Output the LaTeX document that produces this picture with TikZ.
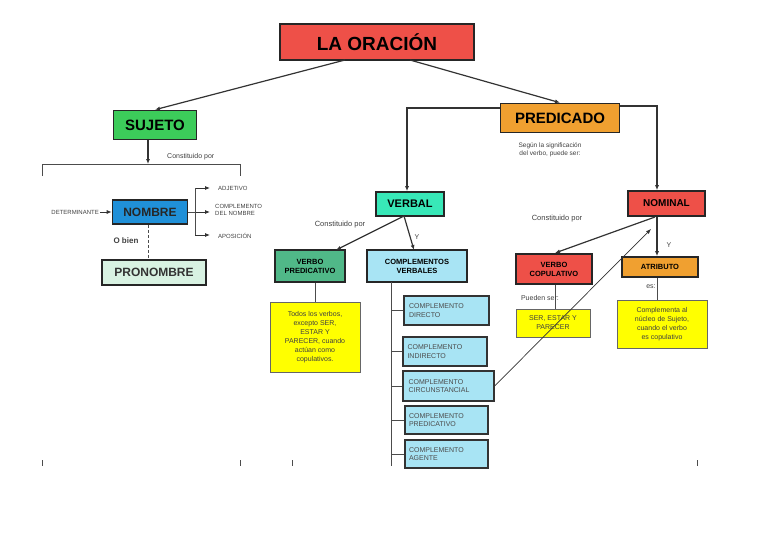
\documentclass[tikz,border=0pt]{standalone}
\usepackage{fontspec}
\setmainfont{Liberation Sans}
\usetikzlibrary{arrows.meta}
\definecolor{cred}{HTML}{EE5048}
\definecolor{cgreen}{HTML}{3CCC5A}
\definecolor{corange}{HTML}{F0A030}
\definecolor{cblue}{HTML}{2090D8}
\definecolor{cpale}{HTML}{D8F2E2}
\definecolor{caqua}{HTML}{38E8B8}
\definecolor{cdgreen}{HTML}{50B888}
\definecolor{clblue}{HTML}{A8E4F4}
\definecolor{cyel}{HTML}{FFFF00}
\tikzset{
 box/.style={draw=black!85, line width=1.6pt, inner sep=0pt, align=center, font=\bfseries},
 cbox/.style={draw=black!80, line width=1.2pt, fill=clblue, inner sep=0pt, align=left, font=\fontsize{7}{8.5}\selectfont, text=black!70},
 ybox/.style={draw=black!60, line width=0.6pt, fill=cyel, inner sep=0pt, align=center, font=\fontsize{7}{9}\selectfont, text=black!75},
 lab/.style={font=\fontsize{7}{8}\selectfont, text=black!75, align=center, inner sep=1pt},
 arr/.style={-{Latex[length=5pt,width=4pt]}, line width=1.2pt, draw=black!80},
 ln/.style={line width=0.9pt, draw=black!70}
}
\begin{document}
\begin{tikzpicture}[x=1pt,y=-1pt]
\useasboundingbox (0,0) rectangle (768,543);
% main
\node[box, fill=cred, minimum width=194, minimum height=36, font=\bfseries\fontsize{19}{21}\selectfont] (or) at (377,42) {LA ORACIÓN};
\node[box, fill=cgreen, minimum width=83, minimum height=29, font=\bfseries\fontsize{15}{17}\selectfont] (suj) at (155,125) {SUJETO};
\node[box, fill=corange, minimum width=119, minimum height=29, font=\bfseries\fontsize{15}{17}\selectfont] (pre) at (560,118) {PREDICADO};
\draw[arr] (345,60) -- (suj.north);
\draw[arr] (410,60) -- (pre.north);
% sujeto
\coordinate (b0) at (148,164);
\draw[arr] (148,140) -- (b0);
\draw[ln] (42,176) -- (42,164) -- (240,164) -- (240,176);
\node[lab, anchor=west] (cp1) at (166,157) {Constituido por};
\node[box, fill=cblue, minimum width=75, minimum height=24, font=\bfseries\fontsize{12}{14}\selectfont, text=black!85] (nom) at (150,212) {NOMBRE};
\node[lab, anchor=east, font=\fontsize{6}{7}\selectfont] (det) at (100,212) {DETERMINANTE};
\draw[arr,line width=0.8pt] (det.east) -- (nom.west);
\coordinate (br) at (195,212);
\draw[ln] (nom.east) -- (br);
\node[lab, anchor=west, align=left, font=\fontsize{6}{7}\selectfont] (adj) at (217,188) {ADJETIVO};
\node[lab, anchor=west, align=left, font=\fontsize{6}{7}\selectfont] (cdn) at (214,210) {COMPLEMENTO\\DEL NOMBRE};
\node[lab, anchor=west, align=left, font=\fontsize{6}{7}\selectfont] (apo) at (217,236) {APOSICIÓN};
\draw[arr,line width=0.8pt] (195,188) -- (210,188);
\draw[arr,line width=0.8pt] (br) -- (210,212);
\draw[arr,line width=0.8pt] (195,235) -- (210,235);
\draw[ln] (195,188) -- (195,235);
\node[box, fill=cpale, minimum width=104, minimum height=25, font=\bfseries\fontsize{12}{14}\selectfont, text=black!80] (pro) at (154,272.5) {PRONOMBRE};
\draw[ln, densely dashed] (nom.south -| 148,0) -- (pro.north -| 148,0);
\node[lab, font=\bfseries\fontsize{8}{9}\selectfont] at (126,241) {O bien};
% predicado branches
\node[box, fill=caqua, minimum width=68, minimum height=24, font=\bfseries\fontsize{11}{13}\selectfont] (verb) at (410,204) {VERBAL};
\node[box, fill=cred, minimum width=77, minimum height=25, font=\bfseries\fontsize{10}{12}\selectfont] (nomi) at (666.5,203.5) {NOMINAL};
\draw[arr] (pre.west |- 0,108) -- (407,108) -- (verb.north -| 407,0);
\draw[arr] (pre.east |- 0,106) -- (657,106) -- (nomi.north -| 657,0);
\node[lab, font=\fontsize{6.5}{7.5}\selectfont] at (550,150) {Según la significación\\del verbo, puede ser:};
% verbal
\node[box, fill=cdgreen, minimum width=70, minimum height=32, font=\bfseries\fontsize{7.5}{9}\selectfont] (vp) at (310,266) {VERBO\\PREDICATIVO};
\node[box, fill=clblue, minimum width=100, minimum height=32, font=\bfseries\fontsize{7.5}{9}\selectfont] (cv) at (417,266) {COMPLEMENTOS\\VERBALES};
\draw[arr] (404,216) -- (336,250);
\draw[arr] (404,216) -- (414,250);
\node[lab, font=\fontsize{7.5}{9}\selectfont] at (340,225) {Constituido por};
\node[lab] at (417,237) {Y};
\node[ybox, minimum width=90, minimum height=70] (y1) at (315,337) {Todos los verbos,\\excepto SER,\\ESTAR Y\\PARECER, cuando\\actúan como\\copulativos.};
\draw[ln] (vp.south -| y1.north) -- (y1.north);
\node[cbox, minimum width=85, minimum height=29, text width=75] (cd) at (446.5,310.5) {COMPLEMENTO\\DIRECTO};
\node[cbox, minimum width=84, minimum height=29, text width=75] (ci) at (445,351.5) {COMPLEMENTO\\INDIRECTO};
\node[cbox, minimum width=91, minimum height=30, text width=80] (cc) at (448.5,386) {COMPLEMENTO\\CIRCUNSTANCIAL};
\node[cbox, minimum width=83, minimum height=28, text width=75] (cpr) at (446.5,420) {COMPLEMENTO\\PREDICATIVO};
\node[cbox, minimum width=83, minimum height=28, text width=75] (ca) at (446.5,454) {COMPLEMENTO\\AGENTE};
\draw[ln] (391,282) -- (391,466);
\foreach \b in {cd,ci,cc,cpr,ca}{\draw[ln] (391,0 |- \b.west) -- (\b.west);}
% nominal
\node[box, fill=cred, minimum width=76, minimum height=30, font=\bfseries\fontsize{7.5}{9}\selectfont] (vc) at (554,269) {VERBO\\COPULATIVO};
\node[box, fill=corange, minimum width=76, minimum height=20, font=\bfseries\fontsize{7.5}{9}\selectfont] (atr) at (660,267) {ATRIBUTO};
\draw[arr] (655,217) -- (555,253);
\draw[arr] (657,217) -- (atr.north -| 657,0);
\node[lab, font=\fontsize{7.5}{9}\selectfont] at (557,219) {Constituido por};
\node[lab] at (669,245) {Y};
\node[ybox, minimum width=74, minimum height=28] (ser) at (553,323) {SER, ESTAR Y\\PARECER};
\draw[ln] (vc.south -| 555,0) -- (ser.north -| 555,0);
\node[lab, anchor=east] at (560,298) {Pueden ser:};
\node[ybox, minimum width=90, minimum height=48] (y2) at (662,324) {Complementa al\\núcleo de Sujeto,\\cuando el verbo\\es copulativo};
\draw[ln] (atr.south -| 657,0) -- (y2.north -| 657,0);
\node[lab] at (651,287) {es:};
\draw[arr, line width=0.7pt] (cc.east) -- (651,229);
% small ticks
\foreach \x in {42,240,292,697}{\draw[ln] (\x,460) -- (\x,466);}
\end{tikzpicture}
\end{document}
